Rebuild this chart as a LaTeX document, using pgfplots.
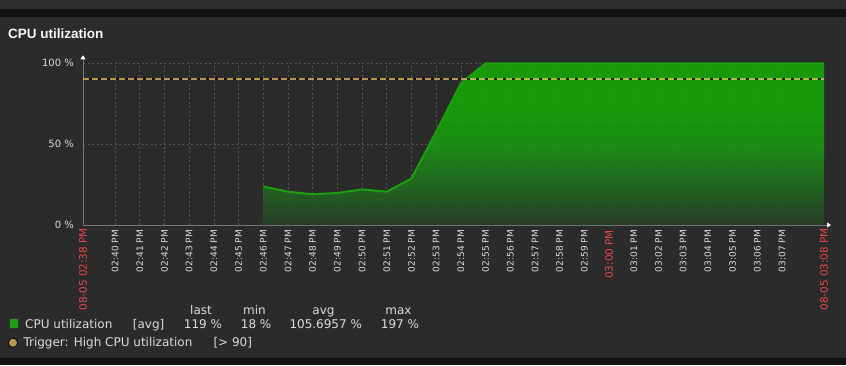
\documentclass[border=0pt]{standalone}
\usepackage{pgfplots}
\pgfplotsset{compat=1.18}
\usepackage{fontspec}
\setmainfont{DejaVu Sans}
\newfontfamily\titlefont{Liberation Sans}
\usetikzlibrary{arrows.meta}
\definecolor{bg}{HTML}{2B2B2B}
\definecolor{topbg}{HTML}{2D2D2D}
\definecolor{band}{HTML}{121212}
\definecolor{gridc}{HTML}{555555}
\definecolor{axisc}{HTML}{777777}
\definecolor{txt}{HTML}{DCDCDC}
\definecolor{datered}{HTML}{E8484B}
\definecolor{cpugreen}{HTML}{1C9E0E}
\definecolor{gold}{HTML}{B8964E}
\definecolor{goldhi}{RGB}{255,208,97}
\definecolor{fbot}{RGB}{39,63,39}
\definecolor{fq}{RGB}{32,112,32}
\definecolor{fmid}{RGB}{24,157,16}
\definecolor{ftop}{RGB}{23,172,7}
\pgfdeclareverticalshading{cpufill}{100bp}{color(0bp)=(fbot); color(25bp)=(fbot); color(37.5bp)=(fq); color(50bp)=(fmid); color(60bp)=(ftop); color(100bp)=(ftop)}
\newcommand\datelbl[1]{\textcolor{datered}{\fontsize{10.4}{12}\selectfont #1}}
\begin{document}
\begin{tikzpicture}[x=1pt,y=1pt]
\useasboundingbox (0,0) rectangle (846,365);
\fill[bg] (0,0) rectangle (846,365);
\fill[topbg] (0,356) rectangle (846,365);
\fill[band] (0,348) rectangle (846,356);
\fill[band] (0,0) rectangle (846,7);
\node[anchor=base west, inner sep=0pt, text=white!94!gray, font=\titlefont\bfseries\fontsize{13.5}{16}\selectfont] at (8,326) {CPU utilization};
\begin{axis}[
  at={(83pt,140pt)}, anchor=south west, scale only axis,
  width=741pt, height=161.7pt,
  xmin=-1.3, xmax=28.7, ymin=0, ymax=100,
  clip=false,
  axis x line*=bottom, axis y line*=left,
  axis line style={draw=axisc, line width=0.8pt},
  x axis line style={shorten >=-7pt, -{Triangle[length=4pt,width=5pt,color=white]}},
  y axis line style={shorten >=-8pt, -{Triangle[length=4pt,width=5pt,color=white]}},
  major tick length=0pt,
  grid=major,
  major grid style={gridc, line width=0.8pt, dash pattern=on 2pt off 2.5pt},
  ytick={0,50,100},
  yticklabels={0 \%,50 \%,100 \%},
  yticklabel style={font=\fontsize{10}{12}\selectfont, text=txt, inner sep=0pt, anchor=east},
  yticklabel shift=9pt,
  xtick={0,...,27},
  xticklabels={02:40 PM,02:41 PM,02:42 PM,02:43 PM,02:44 PM,02:45 PM,02:46 PM,02:47 PM,02:48 PM,02:49 PM,02:50 PM,02:51 PM,02:52 PM,02:53 PM,02:54 PM,02:55 PM,02:56 PM,02:57 PM,02:58 PM,02:59 PM,\datelbl{03:00 PM},03:01 PM,03:02 PM,03:03 PM,03:04 PM,03:05 PM,03:06 PM,03:07 PM},
  xticklabel style={rotate=90, anchor=east, font=\fontsize{9}{10}\selectfont, text=txt, inner sep=0pt},
  xticklabel shift=5pt,
  extra x ticks={-1.3,28.7},
  extra x tick labels={\datelbl{08-05 02:38 PM},\datelbl{08-05 03:08 PM}},
  extra x tick style={grid=none, xticklabel shift=3pt},
]
\addplot[draw=none, shade, shading=cpufill, fill opacity=0.85] coordinates {
  (6,23.8) (7,20.6) (8,19.0) (9,19.8) (10,22.0) (11,20.6) (12,28.8) (13,57.7) (14,87.6)
  (15,100) (16,100) (17,100) (18,100) (19,100) (20,100) (21,100) (22,100) (23,100)
  (24,100) (25,100) (26,100) (27,100) (28,100) (28.7,100)} \closedcycle;
\addplot[cpugreen, line width=2pt, line join=round] coordinates {
  (6,23.8) (7,20.6) (8,19.0) (9,19.8) (10,22.0) (11,20.6) (12,28.8) (13,57.7) (14,87.6)
  (15,100) (16,100) (17,100) (18,100) (19,100) (20,100) (21,100) (22,100) (23,100)
  (24,100) (25,100) (26,100) (27,100) (28,100) (28.7,100)};
\addplot[black, opacity=0.65, line width=2pt, dash pattern=on 3pt off 6pt, dash phase=3pt] coordinates {(-1.3,90) (28.7,90)};
\addplot[goldhi, opacity=0.65, line width=2pt, dash pattern=on 6pt off 3pt] coordinates {(-1.3,90) (28.7,90)};
\end{axis}
% legend
\begin{scope}[every node/.style={inner sep=0pt, text=txt, font=\fontsize{12}{14}\selectfont}]
\node[anchor=base] at (201,50.5) {last};
\node[anchor=base] at (254.5,50.5) {min};
\node[anchor=base] at (323.5,50.5) {avg};
\node[anchor=base] at (398.5,50.5) {max};
\fill[cpugreen, draw=black!80, line width=0.6pt] (9,36.7) rectangle (18,46.7);
\node[anchor=base west] at (25,36.7) {CPU utilization};
\node[anchor=base west] at (132.7,36.7) {[avg]};
\node[anchor=base west] at (183.7,36.7) {119 \%};
\node[anchor=base west] at (240.7,36.7) {18 \%};
\node[anchor=base west] at (289.3,36.7) {105.6957 \%};
\node[anchor=base west] at (380.7,36.7) {197 \%};
\fill[gold, draw=black, line width=0.7pt] (13,22.3) circle (4.6);
\node[anchor=base west] at (23.3,18.3) {Trigger: High CPU utilization};
\node[anchor=base west] at (213.3,18.3) {[> 90]};
\end{scope}
\end{tikzpicture}
\end{document}
